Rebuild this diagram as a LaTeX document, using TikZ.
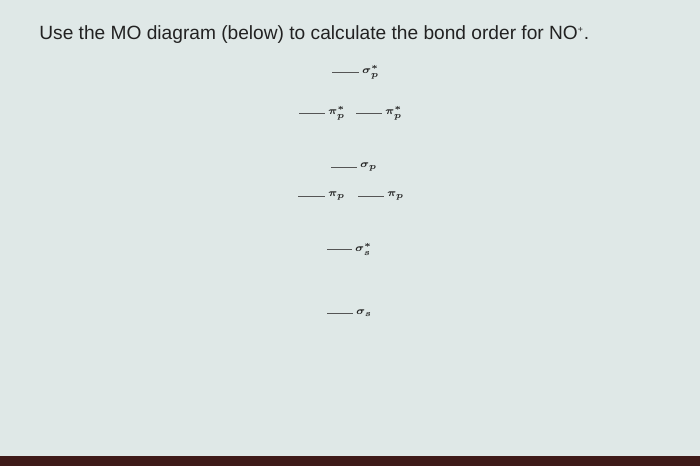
\documentclass[tikz,border=0pt]{standalone}
\usepackage{amsmath}
\usepackage{fontspec}
\setmainfont{Liberation Sans}
\usetikzlibrary{positioning}
\definecolor{screenbg}{RGB}{223,232,231}
\definecolor{inkgray}{RGB}{34,34,34}
\definecolor{levelgray}{RGB}{85,85,85}
\definecolor{bezel}{RGB}{62,26,24}

\begin{document}
\begin{tikzpicture}[
        x=0.02cm, y=-0.02cm,
        level/.style={draw=levelgray, line width=0.45pt},
        lbl/.style={right, inner sep=1.5pt, text=inkgray, font=\fontsize{6.5}{7}\selectfont}
    ]
        \fill[screenbg] (0,0) rectangle (700,466);
        \fill[bezel] (0,456) rectangle (700,466);
        \node[anchor=base west, inner sep=0pt, text=inkgray, font=\fontsize{10.9}{13}\selectfont] (title) at (39,39.5) {Use the MO diagram (below) to calculate the bond order for NO\textsuperscript{\tiny+}.};
        
        % antibonding sigma p
        \coordinate (spsA) at (332,72); \coordinate (spsB) at (359,72);
        \draw[level] (spsA) -- (spsB) node[lbl] (spslbl) {$\boldsymbol{\sigma_p^*}$};
        % antibonding pi p
        \coordinate (ppsA) at (299,113); \coordinate (ppsB) at (325,113);
        \draw[level] (ppsA) -- (ppsB) node[lbl] (ppslbl) {$\boldsymbol{\pi_p^*}$};
        \coordinate (ppsC) at (356,113); \coordinate (ppsD) at (382,113);
        \draw[level] (ppsC) -- (ppsD) node[lbl] (ppslblb) {$\boldsymbol{\pi_p^*}$};
        % bonding sigma p
        \coordinate (spA) at (331,167); \coordinate (spB) at (357,167);
        \draw[level] (spA) -- (spB) node[lbl] (splbl) {$\boldsymbol{\sigma_p}$};
        % bonding pi p
        \coordinate (ppA) at (298,196); \coordinate (ppB) at (325,196);
        \draw[level] (ppA) -- (ppB) node[lbl] (pplbl) {$\boldsymbol{\pi_p}$};
        \coordinate (ppC) at (358,196); \coordinate (ppD) at (384,196);
        \draw[level] (ppC) -- (ppD) node[lbl] (pplblb) {$\boldsymbol{\pi_p}$};
        % sigma s
        \coordinate (sssA) at (327,249); \coordinate (sssB) at (352,249);
        \draw[level] (sssA) -- (sssB) node[lbl] (ssslbl) {$\boldsymbol{\sigma_s^*}$};
        \coordinate (ssA) at (327,313); \coordinate (ssB) at (353,313);
        \draw[level] (ssA) -- (ssB) node[lbl] (sslbl) {$\boldsymbol{\sigma_s}$};
    \end{tikzpicture}
\end{document}
